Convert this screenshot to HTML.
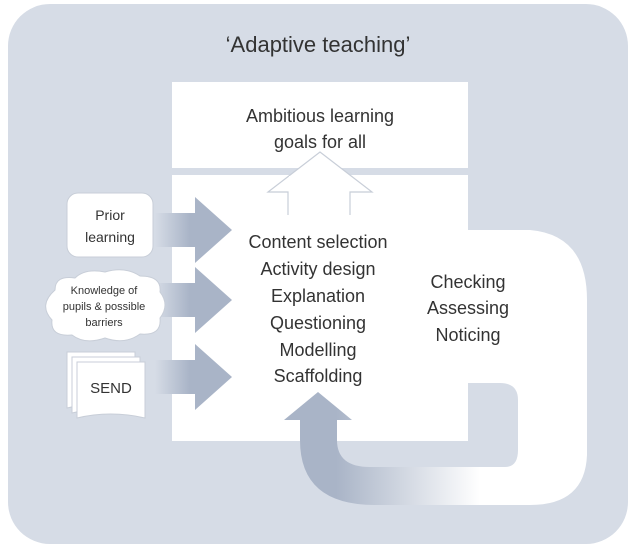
<!DOCTYPE html>
<html><head><style>
body{margin:0;background:#fff;width:640px;height:554px;overflow:hidden;font-family:"Liberation Sans",sans-serif}
</style></head><body>
<svg width="640" height="554" viewBox="0 0 640 554" xmlns="http://www.w3.org/2000/svg">
<defs>
<linearGradient id="ua" x1="300" y1="0" x2="480" y2="0" gradientUnits="userSpaceOnUse">
<stop offset="0.2" stop-color="#a9b4c7"/><stop offset="1" stop-color="#ffffff"/></linearGradient>
<linearGradient id="la" x1="0" y1="0" x2="1" y2="0">
<stop offset="0" stop-color="#d6dce6"/><stop offset="0.45" stop-color="#a9b4c7"/><stop offset="1" stop-color="#a9b4c7"/></linearGradient>
<linearGradient id="upa" x1="0" y1="1" x2="0" y2="0">
<stop offset="0" stop-color="#ffffff"/><stop offset="1" stop-color="#ffffff"/></linearGradient>
</defs>
<rect x="8" y="4" width="620" height="540" rx="42" fill="#d6dce6"/>
<rect x="172" y="82" width="296" height="86" fill="#fff"/>
<rect x="172" y="175" width="296" height="266" fill="#fff"/>
<!-- U shape white -->
<path d="M467,230 L530,230 Q587,235 587,300 L587,455 Q585,505 530,505 L467,505 L467,467 L505,467 Q518,467 518,450 L518,400 Q518,383 500,383 L467,383 Z" fill="#fff"/>
<!-- bottom arrow with gradient -->
<path d="M480,505 L375,505 Q300,505 300,440 L300,420 L284,420 L318,392 L352,420 L337,420 L337,440 Q337,467 370,467 L480,467 Z" fill="url(#ua)"/>
<!-- up arrow -->
<path d="M288,215 L288,192 L268,192 L320,152 L372,192 L350,192 L350,215" fill="#fff" stroke="#c8ced8" stroke-width="1.2"/>
<rect x="289" y="176" width="60" height="40" fill="#fff"/>
<!-- left arrows -->
<g fill="url(#la)">
<path d="M155,213 L195,213 L195,197 L232,230 L195,263 L195,247 L155,247 Z"/>
<path d="M155,283 L195,283 L195,267 L232,300 L195,333 L195,317 L155,317 Z"/>
<path d="M155,360 L195,360 L195,344 L232,377 L195,410 L195,394 L155,394 Z"/>
</g>
<rect x="67" y="193" width="86" height="64" rx="11" fill="#fff" stroke="#c8ced8"/>
<text x="110" y="220" font-size="14" text-anchor="middle" fill="#333">Prior</text>
<text x="110" y="242" font-size="14" text-anchor="middle" fill="#333">learning</text>
<path d="M55,290 Q55,275 75,278 Q85,268 105,272 Q125,266 140,276 Q162,276 160,292 Q170,305 160,318 Q162,336 140,334 Q125,345 105,338 Q85,345 72,335 Q50,337 52,320 Q38,305 55,290 Z" fill="#fff" stroke="#c8ced8"/>
<text x="104" y="294" font-size="11" text-anchor="middle" fill="#333">Knowledge of</text>
<text x="104" y="310" font-size="11" text-anchor="middle" fill="#333">pupils &amp; possible</text>
<text x="104" y="326" font-size="11" text-anchor="middle" fill="#333">barriers</text>
<path d="M67,352 L135,352 L135,408 Q100,400 67,408 Z" fill="#fff" stroke="#c8ced8"/>
<path d="M72,357 L140,357 L140,413 Q105,405 72,413 Z" fill="#fff" stroke="#c8ced8"/>
<path d="M77,362 L145,362 L145,418 Q110,410 77,418 Z" fill="#fff" stroke="#c8ced8"/>
<text x="111" y="393" font-size="15" text-anchor="middle" fill="#333">SEND</text>
<g font-size="22" fill="#333" text-anchor="middle"><text x="318" y="52">‘Adaptive teaching’</text></g>
<g font-size="18" fill="#333" text-anchor="middle">
<text x="320" y="122">Ambitious learning</text>
<text x="320" y="148">goals for all</text>
<text x="318" y="248">Content selection</text>
<text x="318" y="275">Activity design</text>
<text x="318" y="302">Explanation</text>
<text x="318" y="329">Questioning</text>
<text x="318" y="356">Modelling</text>
<text x="318" y="382">Scaffolding</text>
<text x="468" y="288">Checking</text>
<text x="468" y="314">Assessing</text>
<text x="468" y="341">Noticing</text>
</g>
</svg>
</body></html>
